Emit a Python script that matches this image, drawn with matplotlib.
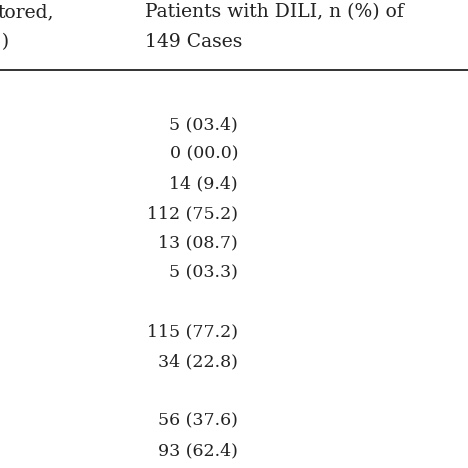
import matplotlib
matplotlib.use("Agg")
import matplotlib.pyplot as plt

counts = [5, 0, 14, 112, 13, 5, 115, 34, 56, 93]
pcts = ["03.4", "00.0", "9.4", "75.2", "08.7", "03.3", "77.2", "22.8", "37.6", "62.4"]
row_y = [125, 154, 184, 214, 243, 273, 332, 362, 421, 451]
header = ["Patients with DILI, n (%) of", "149 Cases"]
left_header = ["tored,", "±)"]

fig = plt.figure(figsize=(4.68, 4.68), dpi=100)
ax = fig.add_axes([0, 0, 1, 1])
ax.set_xlim(0, 468)
ax.set_ylim(468, 0)
ax.axis("off")
fs = 12.5
hfs = 13.5
fam = "DejaVu Serif"
ax.text(-3, 12, left_header[0], fontsize=hfs, family=fam, va="center", color="#222")
ax.text(-14, 42, left_header[1], fontsize=hfs, family=fam, va="center", color="#222")
ax.text(145, 12, header[0], fontsize=hfs, family=fam, va="center", color="#222")
ax.text(145, 42, header[1], fontsize=hfs, family=fam, va="center", color="#222")
ax.plot([0, 468], [70, 70], color="#222", lw=1.3)
for c, p, y in zip(counts, pcts, row_y):
    ax.text(238, y, f"{c} ({p})", fontsize=fs, family=fam, va="center", ha="right", color="#222")
fig.savefig("out.png", dpi=100)
